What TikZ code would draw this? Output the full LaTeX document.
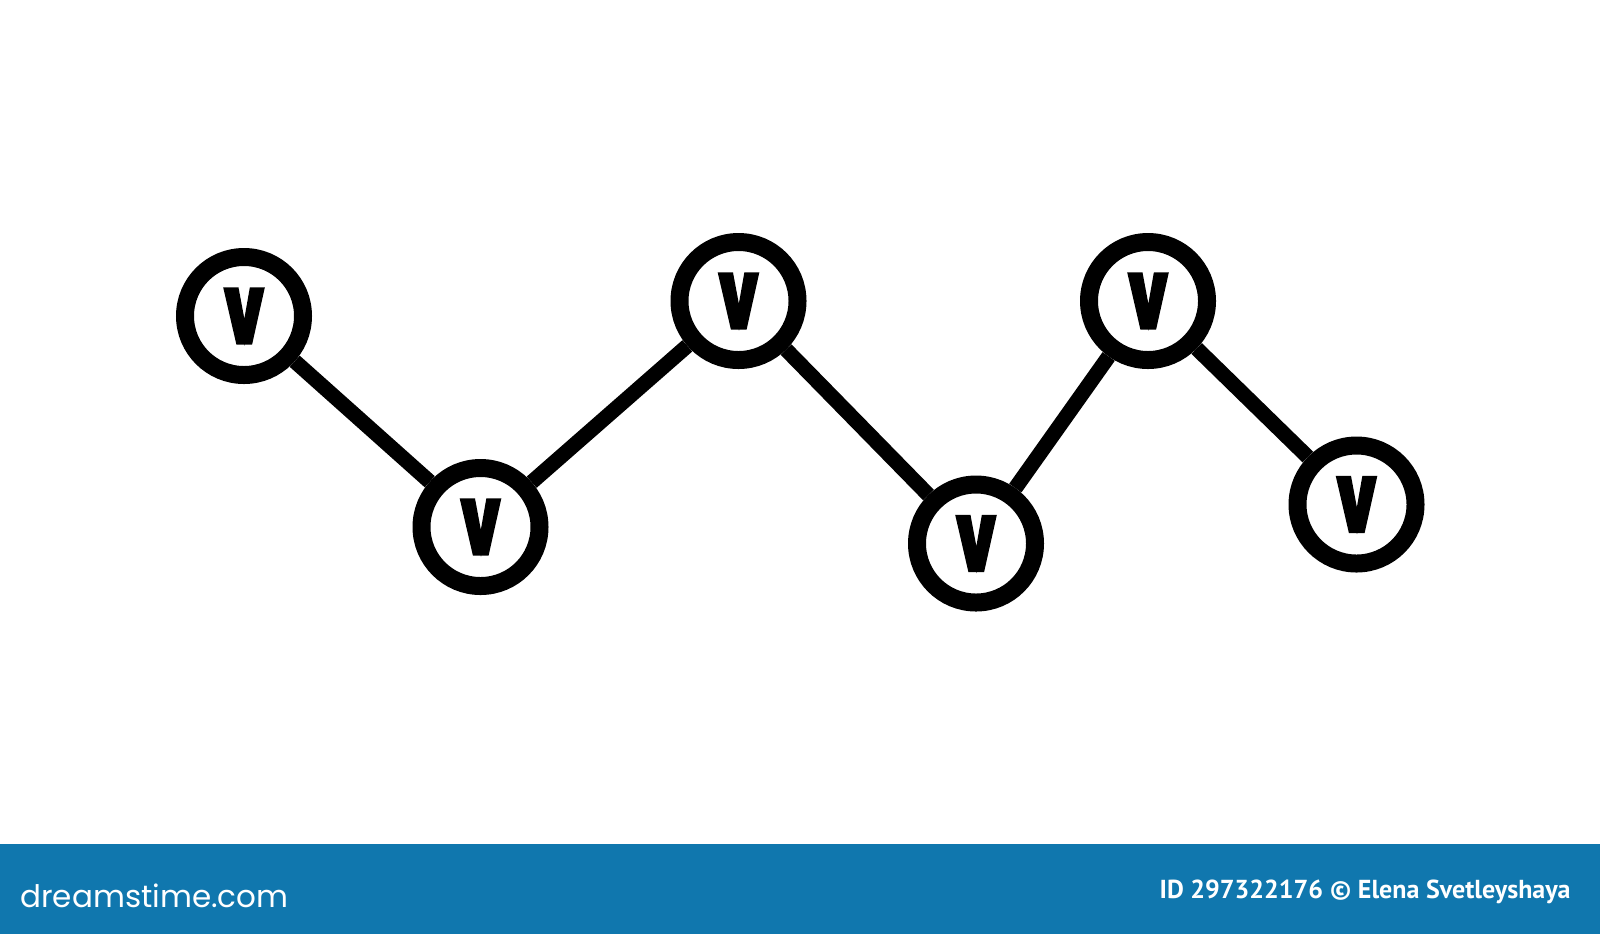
\documentclass[tikz,border=0pt]{standalone}
\usepackage{fontspec}
\newfontfamily\vfont{Fira Sans}[FakeBold=8]
\newfontfamily\logofont{Poppins}
\newfontfamily\idfont{PT Sans}
\definecolor{banner}{RGB}{16,119,174}
\begin{document}
\begin{tikzpicture}[x=0.5pt,y=-0.5pt,
  vnode/.style={circle,draw=black,line width=9pt,minimum size=59pt,inner sep=0pt,
    font=\vfont\bfseries\fontsize{37}{37}\selectfont},
  edge/.style={draw=black,line width=7.5pt}]
\useasboundingbox (0,0) rectangle (1600,934);
\fill[white] (0,0) rectangle (1600,934);
\node[vnode] (c1) at (244,316) {\scalebox{0.8}[1]{V}};
\node[vnode] (c2) at (480.5,527) {\scalebox{0.8}[1]{V}};
\node[vnode] (c3) at (738.5,301) {\scalebox{0.8}[1]{V}};
\node[vnode] (c4) at (976,543.5) {\scalebox{0.8}[1]{V}};
\node[vnode] (c5) at (1148,301) {\scalebox{0.8}[1]{V}};
\node[vnode] (c6) at (1356.5,504.5) {\scalebox{0.8}[1]{V}};
\draw[edge] (c1) -- (c2);
\draw[edge] (c2) -- (c3);
\draw[edge] (c3) -- (c4);
\draw[edge] (c4) -- (c5);
\draw[edge] (c5) -- (c6);
\fill[banner] (0,844) rectangle (1600,934);
\node[anchor=base west,text=white,inner sep=0pt,font=\logofont\fontsize{15.5}{15.5}\selectfont] (logo) at (20,907) {dreamstime.com};
\node[anchor=base east,text=white,inner sep=0pt,font=\idfont\bfseries\fontsize{13}{13}\selectfont] (id) at (1571,898) {ID 297322176 © Elena Svetleyshaya};
\end{tikzpicture}
\end{document}
